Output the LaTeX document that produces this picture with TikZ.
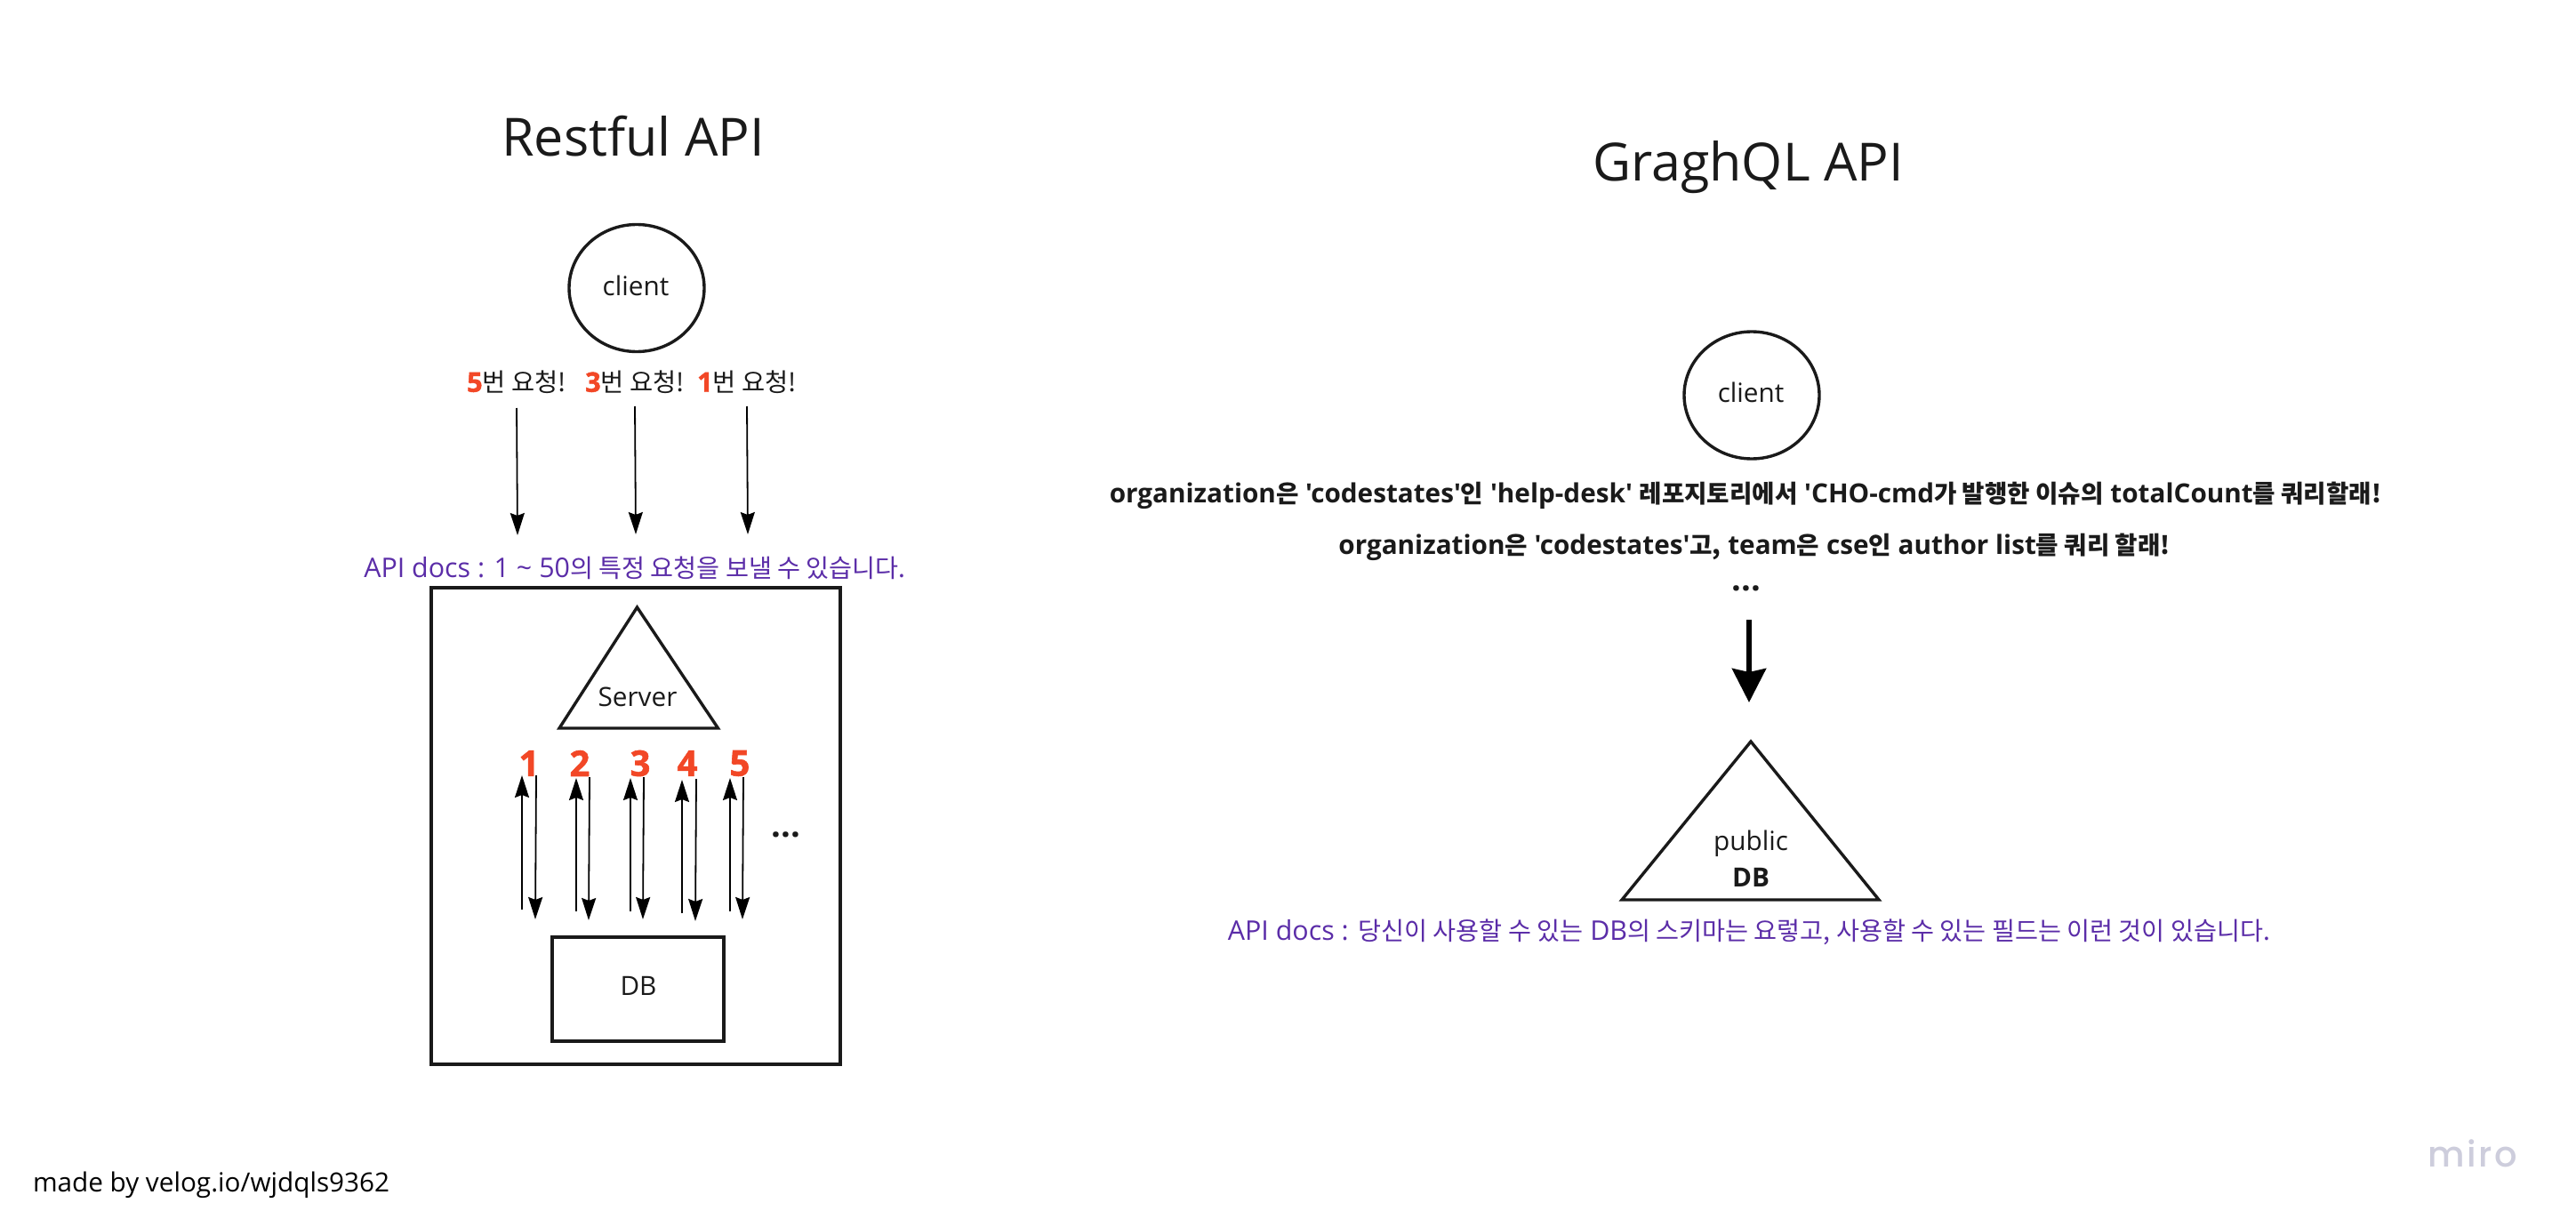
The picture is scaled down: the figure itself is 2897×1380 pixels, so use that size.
\documentclass[tikz,border=0pt]{standalone}
\usepackage{fontspec}
\usetikzlibrary{arrows.meta,shapes.geometric}
\newfontfamily\osf{Open Sans}
\newfontfamily\krf[Scale=0.93]{Noto Sans CJK KR}
\newfontfamily\numf[UprightFont=* Bold,FakeBold=1.5]{Open Sans}
\newfontfamily\mirof[UprightFont=* Medium,LetterSpace=6]{Poppins}
\newcommand{\K}[1]{{\krf #1}}
\definecolor{ink}{HTML}{1A1A1A}
\definecolor{hot}{HTML}{F24726}
\definecolor{docs}{HTML}{5B2DA8}
\definecolor{mirogrey}{HTML}{CDCDDC}
\tikzset{
  x=0.5pt,y=-0.5pt,
  every node/.style={inner sep=0pt,outer sep=0pt,align=center,text=ink,font=\osf},
  title/.style={font=\osf\fontsize{29.6}{36}\selectfont},
  lbl/.style={font=\osf\fontsize{14.85}{18}\selectfont},
  reqlbl/.style={font=\osf\fontsize{15.3}{18}\selectfont},
  boldlbl/.style={font=\osf\bfseries\fontsize{14.85}{18}\selectfont},
  dotsl/.style={font=\osf\bfseries\fontsize{19}{22}\selectfont},
  doc/.style={font=\osf\fontsize{15.2}{18}\selectfont,text=docs},
  num/.style={font=\numf\fontsize{20}{24}\selectfont,text=hot},
  shp/.style={draw=ink,line width=1.7pt},
  clientshape/.style={shp,ellipse,minimum width=76pt,minimum height=71.5pt},
  rectshape/.style={shp,rectangle,anchor=north west},
  thinarrow/.style={draw=black,line width=0.9pt,-{Stealth[length=12.5pt,width=8pt,inset=1.5pt]}},
  fatarrow/.style={draw=black,line width=3pt,-{Stealth[length=19pt,width=19pt,inset=2pt]}},
}
\newcommand{\hotn}[1]{{\numf\color{hot}#1}}
\begin{document}
\begin{tikzpicture}
\useasboundingbox (0,0) rectangle (2897,1380);
\fill[white] (0,0) rectangle (2897,1380);
% ---- Restful side
\node[title] (rtitle) at (712,153) {Restful API};
\node[clientshape] (rclient) at (716,324) {};
\node[lbl] (rclientlbl) at (715,321.5) {client};
\node[reqlbl] (req5) at (581,430) {\hotn{5}\K{번 요청!}};
\node[reqlbl] (req3) at (714,430) {\hotn{3}\K{번 요청!}};
\node[reqlbl] (req1) at (840,430) {\hotn{1}\K{번 요청!}};
\coordinate (a5s) at (581,459); \coordinate (a5e) at (582,602);
\coordinate (a3s) at (714,457); \coordinate (a3e) at (715,601);
\coordinate (a1s) at (840,457); \coordinate (a1e) at (841,601);
\draw[thinarrow] (a5s) -- (a5e);
\draw[thinarrow] (a3s) -- (a3e);
\draw[thinarrow] (a1s) -- (a1e);
\node[doc] (rdoc) at (714,639) {API docs : 1 \textasciitilde{} 50\K{의 특정 요청을 보낼 수 있습니다.}};
\node[rectshape,minimum width=230pt,minimum height=268pt] (outer) at (485,661) {};
\draw[shp] (716.5,683) -- (807.5,819) -- (629,819) -- cycle;
\node[lbl] (server) at (717,784) {Server};
\node[rectshape,minimum width=96.5pt,minimum height=58.5pt] (rdb) at (621,1054) {};
\node[lbl] (rdblbl) at (718,1109) {DB};
\node[num] (n1) at (595,858.5) {1};
\node[num] (n2) at (652,858.5) {2};
\node[num] (n3) at (720,858.5) {3};
\node[num] (n4) at (773,858.5) {4};
\node[num] (n5) at (832,858.5) {5};
\node[dotsl] (rdots) at (884,939) {...};
% up / down pairs
\foreach \nm/\ux/\uy/\ut/\dx/\dy/\db in {
  p/587/1023/872/603/872/1034,
  q/648/1025/875/663/874/1035,
  r/709/1025/875/724/874/1034,
  s/767/1027/877/783/876/1036,
  t/821/1025/875/836/874/1034}{
  \coordinate (\nm us) at (\ux,\uy);
  \coordinate (\nm ue) at (\ux,\ut);
  \coordinate (\nm ds) at (\dx,\dy);
  \coordinate (\nm de) at (\dx-1,\db);
  \draw[thinarrow] (\nm us) -- (\nm ue);
  \draw[thinarrow] (\nm ds) -- (\nm de);
}
% ---- GraphQL side
\node[title] (gtitle) at (1966,188) {GraghQL API};
\node[clientshape] (gclient) at (1970,444.5) {};
\node[lbl] (gclientlbl) at (1969,441.5) {client};
\node[boldlbl] (q1) at (1963,557) {organization\K{은} 'codestates'\K{인} 'help-desk' \K{레포지토리에서} 'CHO-cmd\K{가 발행한 이슈의} totalCount\K{를 쿼리할래!}};
\node[boldlbl] (q2) at (1973,615) {organization\K{은} 'codestates'\K{고,} team\K{은} cse\K{인} author list\K{를 쿼리 할래!}};
\node[dotsl] (gdots) at (1964,662) {...};
\coordinate (gas) at (1967,697);
\coordinate (gae) at (1967,790);
\draw[fatarrow] (gas) -- (gae);
\draw[shp] (1969,834) -- (2113,1012) -- (1824,1012) -- cycle;
\node[lbl] (gpub) at (1969,949) {public};
\node[boldlbl] (gdb) at (1969,987) {DB};
\node[doc] (gdoc) at (1967,1048.5) {API docs : \K{당신이 사용할 수 있는} DB\K{의 스키마는 요렇고, 사용할 수 있는 필드는 이런 것이 있습니다.}};
% ---- footer
\node[lbl,anchor=west,text=black] (credit) at (37,1333) {made by velog.io/wjdqls9362};
\node[anchor=base east,text=mirogrey,font=\mirof\fontsize{20}{25}\selectfont] (miro) at (2831,1312) {miro};
\end{tikzpicture}
\end{document}
